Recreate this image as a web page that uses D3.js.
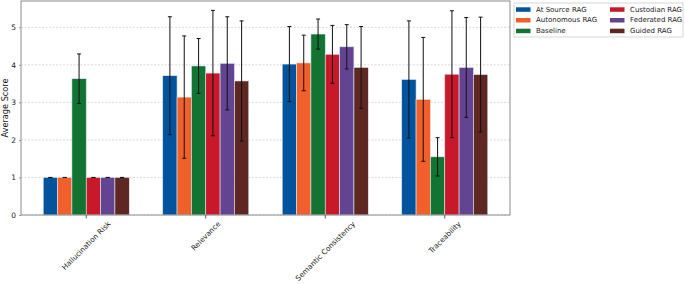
<!DOCTYPE html>
<html>
<head>
<meta charset="utf-8">
<script src="https://cdn.jsdelivr.net/npm/d3@7"></script>
<style>
  body { margin: 0; background: #fff; }
  text { font-family: "DejaVu Sans", sans-serif; }
</style>
</head>
<body>
<div id="chart"></div>
<script>
const metrics = ["Hallucination Risk", "Relevance", "Semantic Consistency", "Traceability"];
const methods = ["At Source RAG", "Autonomous RAG", "Baseline", "Custodian RAG", "Federated RAG", "Guided RAG"];
const colors = ["#00539c", "#f15f2b", "#137333", "#c8192a", "#634492", "#5e2722"];

// mean score per method, one value per metric
const means = {
  "At Source RAG":  [1.00, 3.71, 4.02, 3.61],
  "Autonomous RAG": [1.00, 3.14, 4.05, 3.08],
  "Baseline":       [3.63, 3.97, 4.82, 1.55],
  "Custodian RAG":  [1.00, 3.78, 4.28, 3.75],
  "Federated RAG":  [1.00, 4.04, 4.48, 3.93],
  "Guided RAG":     [1.00, 3.57, 3.93, 3.74]
};
// standard deviation per method, one value per metric
const stds = {
  "At Source RAG":  [0.00, 1.57, 1.00, 1.56],
  "Autonomous RAG": [0.00, 1.63, 0.74, 1.65],
  "Baseline":       [0.66, 0.73, 0.40, 0.51],
  "Custodian RAG":  [0.00, 1.67, 0.77, 1.69],
  "Federated RAG":  [0.00, 1.24, 0.59, 1.33],
  "Guided RAG":     [0.00, 1.60, 1.09, 1.53]
};
const yTicks = [0, 1, 2, 3, 4, 5];

const width = 685, height = 284;
const margin = { top: 1, right: 175, bottom: 69, left: 21 };
const barW = 0.12;

const svg = d3.select("#chart").append("svg")
  .attr("width", width)
  .attr("height", height);

const x = d3.scaleLinear()
  .domain([-0.546, metrics.length - 1 + 0.546])
  .range([margin.left, width - margin.right]);

const y = d3.scaleLinear()
  .domain([0, 5.7])
  .range([height - margin.bottom, margin.top]);

// grid
svg.append("g")
  .selectAll("line")
  .data(yTicks)
  .join("line")
  .attr("x1", margin.left).attr("x2", width - margin.right)
  .attr("y1", d => y(d)).attr("y2", d => y(d))
  .attr("stroke", "#d0d0d0")
  .attr("stroke-width", 0.8)
  .attr("stroke-dasharray", "2,1.5");

// bars
const rows = [];
methods.forEach((m, i) => {
  metrics.forEach((k, j) => {
    rows.push({ method: m, i, j, mean: means[m][j], sd: stds[m][j] });
  });
});

const cx = d => x(d.j + (d.i - (methods.length - 1) / 2) * barW);
const bw = x(barW) - x(0);

svg.append("g")
  .selectAll("rect")
  .data(rows)
  .join("rect")
  .attr("x", d => cx(d) - bw / 2)
  .attr("y", d => y(d.mean))
  .attr("width", bw)
  .attr("height", d => y(0) - y(d.mean))
  .attr("fill", d => colors[d.i])
  .attr("stroke", "#dfe8ef")
  .attr("stroke-width", 0.6);

// error bars
const eb = svg.append("g")
  .attr("stroke", "#111")
  .attr("stroke-width", 1);
eb.selectAll("line.v")
  .data(rows)
  .join("line")
  .attr("class", "v")
  .attr("x1", cx).attr("x2", cx)
  .attr("y1", d => y(d.mean + d.sd))
  .attr("y2", d => y(d.mean - d.sd));
eb.selectAll("line.t")
  .data(rows.flatMap(d => [d.mean + d.sd, d.mean - d.sd].map(v => ({ d, v }))))
  .join("line")
  .attr("class", "t")
  .attr("x1", e => cx(e.d) - 2).attr("x2", e => cx(e.d) + 2)
  .attr("y1", e => y(e.v)).attr("y2", e => y(e.v));

// frame
svg.append("rect")
  .attr("x", margin.left).attr("y", margin.top)
  .attr("width", width - margin.right - margin.left)
  .attr("height", height - margin.bottom - margin.top)
  .attr("fill", "none")
  .attr("stroke", "#8c8c8c")
  .attr("stroke-width", 1);

// y axis
const yAxis = svg.append("g")
  .attr("transform", `translate(${margin.left},0)`)
  .call(d3.axisLeft(y).tickValues(yTicks).tickFormat(d3.format("d")).tickSize(2).tickPadding(3));
yAxis.select(".domain").remove();
yAxis.selectAll(".tick line").attr("stroke", "#999");
yAxis.selectAll("text").attr("font-size", 7.5).attr("fill", "#222").style("font-family", "DejaVu Sans");

svg.append("text")
  .attr("transform", `translate(4.5,${(y(0) + y(5.7)) / 2}) rotate(-90)`)
  .attr("text-anchor", "middle")
  .attr("dominant-baseline", "central")
  .attr("font-size", 8.2)
  .attr("fill", "#111")
  .text("Average Score");

// x axis ticks and rotated labels
const xg = svg.append("g");
xg.selectAll("line")
  .data(metrics)
  .join("line")
  .attr("x1", (d, j) => x(j)).attr("x2", (d, j) => x(j))
  .attr("y1", y(0)).attr("y2", y(0) + 3.5)
  .attr("stroke", "#555");

xg.selectAll("text")
  .data(metrics)
  .join("text")
  .attr("font-size", 7.3)
  .attr("fill", "#222")
  .attr("text-anchor", "middle")
  .attr("dominant-baseline", "central")
  .text(d => d)
  .each(function(d, j) {
    const w = this.getComputedTextLength();
    const h = 7.3;
    const half = (w + h) * Math.SQRT1_2 / 2;
    const px = x(j), py = y(0) + 5 + half;
    d3.select(this).attr("transform", `translate(${px},${py}) rotate(-45)`);
  });

// legend
const lg = svg.append("g").attr("transform", "translate(514,3)");
lg.append("rect")
  .attr("width", 169).attr("height", 34)
  .attr("fill", "#fff")
  .attr("stroke", "#cccccc")
  .attr("stroke-width", 0.8);
const items = lg.selectAll("g")
  .data(methods)
  .join("g")
  .attr("transform", (d, i) => `translate(${i < 3 ? 2 : 96},${6.5 + (i % 3) * 10.7})`);
items.append("rect")
  .attr("x", 0).attr("y", -2.2)
  .attr("width", 14.5).attr("height", 4.5)
  .attr("fill", (d, i) => colors[i]);
items.append("text")
  .attr("x", 20).attr("y", 0)
  .attr("dominant-baseline", "central")
  .attr("font-size", 7)
  .attr("fill", "#222")
  .text(d => d);
</script>
</body>
</html>
